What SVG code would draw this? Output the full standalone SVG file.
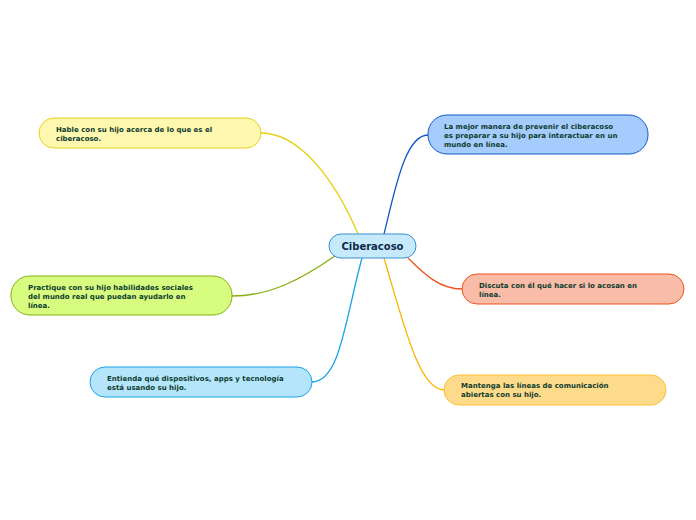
<svg xmlns="http://www.w3.org/2000/svg" width="696" height="520" viewBox="0 0 696 520">
<style>
.t{font-family:"DejaVu Sans",Verdana,sans-serif;font-weight:bold;font-size:7px;fill:#0d3b2e}
.c{fill:none;stroke-width:1.3}
rect{stroke-width:1}
</style>
<rect width="696" height="520" fill="#fff"/>
<g id="connectors">
<path class="c" stroke="#e8d118" d="M358,234 C335,180 300,133 261,133"/>
<path class="c" stroke="#1158c7" d="M384,234 C395,190 405,135 428,135"/>
<path class="c" stroke="#84b00f" d="M335,256 C300,280 270,296 232,296"/>
<path class="c" stroke="#18a3e6" d="M362,258 C345,320 340,382 312,382"/>
<path class="c" stroke="#f0501e" d="M408,258 C425,275 440,289 462,289"/>
<path class="c" stroke="#f8b500" d="M384,258 C405,330 420,390 444,390"/>
</g>
<g id="center"><rect x="329" y="234" width="87" height="24" rx="12" fill="#c6eafc" stroke="#3a8fd0"/><text x="372.5" y="250" text-anchor="middle" style="font-family:'DejaVu Sans',Verdana,sans-serif;font-weight:bold;font-size:10px;fill:#0b2a4a">Ciberacoso</text></g>
<g id="n1"><rect x="39" y="118" width="222" height="30" rx="15" fill="#fff8b0" stroke="#e8d118"/><text class="t"><tspan x="56" y="132">Hable con su hijo acerca de lo que es el</tspan><tspan x="56" y="141">ciberacoso.</tspan></text></g>
<g id="n2"><rect x="11" y="276" width="221" height="39" rx="19" fill="#d7fc80" stroke="#84b00f"/><text class="t"><tspan x="28" y="290">Practique con su hijo habilidades sociales</tspan><tspan x="28" y="299">del mundo real que puedan ayudarlo en</tspan><tspan x="28" y="308">línea.</tspan></text></g>
<g id="n3"><rect x="90" y="367" width="222" height="30" rx="15" fill="#b5e5fb" stroke="#18a3e6"/><text class="t"><tspan x="107" y="381">Entienda qué dispositivos, apps y tecnología</tspan><tspan x="107" y="390">está usando su hijo.</tspan></text></g>
<g id="n4"><rect x="428" y="115" width="220" height="39" rx="19" fill="#a6cbfd" stroke="#1158c7"/><text class="t"><tspan x="444" y="129">La mejor manera de prevenir el ciberacoso</tspan><tspan x="444" y="138">es preparar a su hijo para interactuar en un</tspan><tspan x="444" y="147">mundo en línea.</tspan></text></g>
<g id="n5"><rect x="462" y="274" width="222" height="30" rx="15" fill="#f8bca8" stroke="#f0501e"/><text class="t"><tspan x="479" y="288">Discuta con él qué hacer si lo acosan en</tspan><tspan x="479" y="297">línea.</tspan></text></g>
<g id="n6"><rect x="444" y="375" width="222" height="30" rx="15" fill="#fddb8b" stroke="#f8c030"/><text class="t"><tspan x="461" y="388">Mantenga las líneas de comunicación</tspan><tspan x="461" y="397">abiertas con su hijo.</tspan></text></g>
</svg>
